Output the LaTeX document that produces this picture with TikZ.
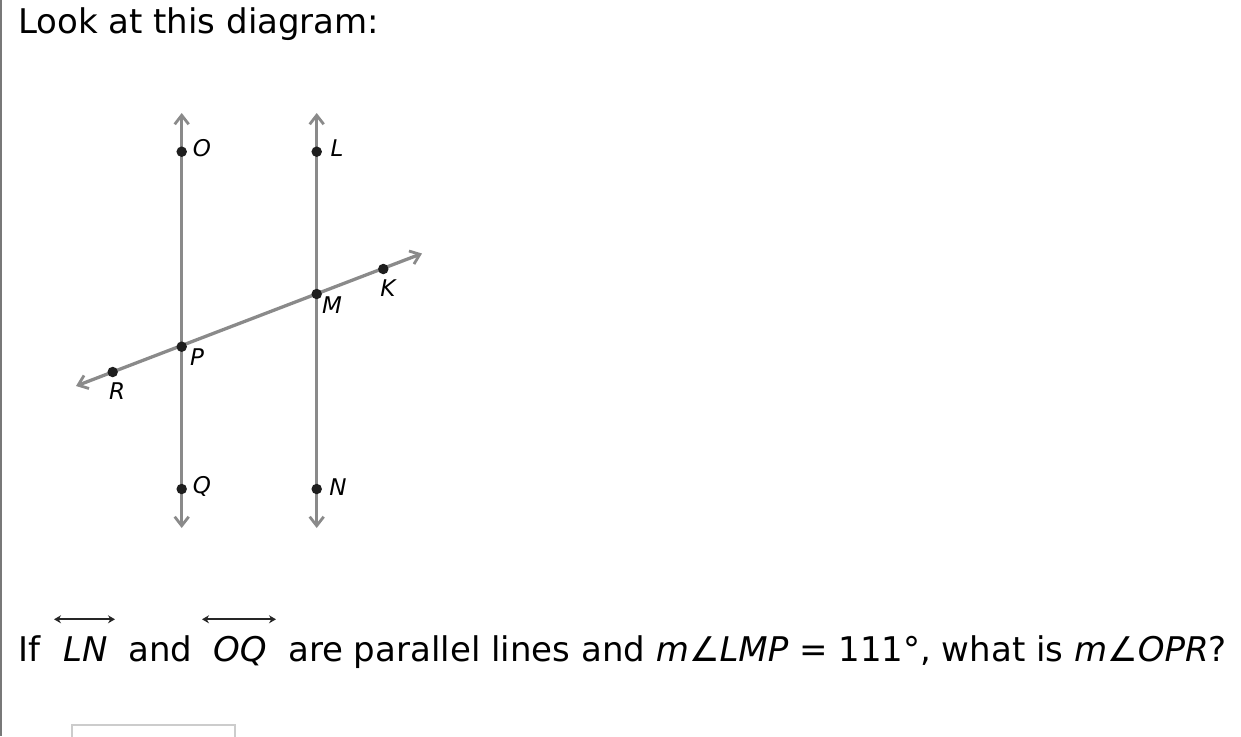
\documentclass[tikz,border=0pt]{standalone}
\usepackage{fontspec}
\setmainfont{DejaVu Sans}
\usetikzlibrary{arrows.meta}
\definecolor{linegray}{RGB}{138,138,138}
\definecolor{dotblack}{RGB}{30,30,30}
\definecolor{boxgray}{RGB}{204,204,204}
\definecolor{edgegray}{RGB}{120,120,120}
\tikzset{
  geoline/.style={draw=linegray, line width=3.3pt,
    {Straight Barb[length=9pt,width=14pt,line width=2.8pt]}-{Straight Barb[length=9pt,width=14pt,line width=2.8pt]}},
  ptdot/.style={circle, fill=dotblack, inner sep=0pt, minimum size=10.5pt},
  ptlabel/.style={font=\fontsize{23}{27}\selectfont\itshape, inner sep=0pt},
  txt/.style={font=\fontsize{34}{40}\selectfont, inner sep=0pt, anchor=base west},
  overarrow/.style={draw=black!85, line width=1.8pt, {Stealth[length=7pt,width=8pt]}-{Stealth[length=7pt,width=8pt]}}
}
\begin{document}
\begin{tikzpicture}[x=1pt,y=-1pt]
\useasboundingbox (0,0) rectangle (1241,736);
% left border
\draw[edgegray, line width=2pt] (1,0) -- (1,736);
% title
\node[txt] (title) at (18,33) {Look at this diagram:};
% points
\coordinate (Otop) at (181.7,113);
\coordinate (Obot) at (181.7,528);
\coordinate (Ltop) at (316.7,113);
\coordinate (Lbot) at (316.7,528);
\coordinate (Rend) at (76,386);
\coordinate (Kend) at (422,253.5);
\draw[geoline] (Obot) -- (Otop);
\draw[geoline] (Lbot) -- (Ltop);
\draw[geoline] (Rend) -- (Kend);
\node[ptdot] (O) at (181.7,151.7) {};
\node[ptdot] (Q) at (181.7,489) {};
\node[ptdot] (L) at (316.7,151.7) {};
\node[ptdot] (N) at (316.7,489) {};
\node[ptdot] (P) at (181.7,346.7) {};
\node[ptdot] (M) at (316.7,294) {};
\node[ptdot] (K) at (383.3,269) {};
\node[ptdot] (R) at (112.7,372) {};
\node[ptlabel] (lO) at (202,148) {O};
\node[ptlabel] (lL) at (337,148) {L};
\node[ptlabel] (lK) at (388,288) {K};
\node[ptlabel] (lM) at (332,305) {M};
\node[ptlabel] (lP) at (197,356.7) {P};
\node[ptlabel] (lR) at (117,391) {R};
\node[ptlabel] (lQ) at (202,486.7) {Q};
\node[ptlabel] (lN) at (338,486.7) {N};
% question
\node[txt] (t1) at (18,661) {If};
\node[txt] (tLN) at (63,661) {\itshape LN};
\node[txt] (t2) at (128,661) {and};
\node[txt] (tOQ) at (213,661) {\itshape OQ};
\node[txt] (t3) at (288,661) {are parallel lines and \textit{m}∠\textit{LMP} = 111°, what is \textit{m}∠\textit{OPR}?};
\draw[overarrow] (54,619.3) -- (115,619.3);
\draw[overarrow] (202,619.3) -- (276,619.3);
% answer box
\draw[boxgray, line width=2pt] (72,740) -- (72,724.5) -- (235,724.5) -- (235,740);
\end{tikzpicture}
\end{document}
